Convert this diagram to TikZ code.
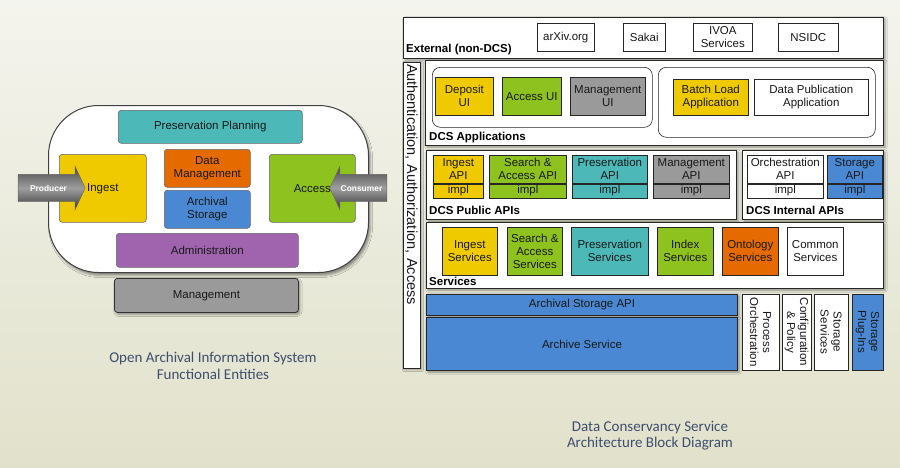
\documentclass[tikz,border=0pt]{standalone}
\usepackage{fontspec}
\setmainfont{Liberation Sans}
\newfontfamily\capfont{Carlito}
\usetikzlibrary{positioning, shapes.arrows, shadows.blur}
\definecolor{oyellow}{HTML}{F0CA00}
\definecolor{ogreen}{HTML}{8DC21F}
\definecolor{oteal}{HTML}{4DB8B8}
\definecolor{ogray}{HTML}{9A9A9A}
\definecolor{oorange}{HTML}{E56A00}
\definecolor{oblue}{HTML}{4A88D4}
\definecolor{opurple}{HTML}{A064AF}
\definecolor{capblue}{HTML}{3E4E6E}
\definecolor{bgtop}{HTML}{F4F4EE}
\definecolor{bgbot}{HTML}{E1E1CB}

\begin{document}
\begin{tikzpicture}[
  x=1pt, y=-1pt,
  sz/.style 2 args={minimum width=#1pt, minimum height=#2pt},
  txt/.style={font=\fontsize{11.5}{13}\selectfont, align=center, text=black!90},
  ent/.style={txt, draw=black!60, line width=0.6pt, rounded corners=3pt, inner sep=0pt, anchor=north west},
  blk/.style={txt, draw=black!85, line width=0.6pt, inner sep=0pt, anchor=north west, fill=white},
  frame/.style={blk, line width=1pt, blur shadow={shadow xshift=1.5pt, shadow yshift=-1.5pt}},
  grp/.style={blk, rounded corners=8pt},
  vtxt/.style={blk, anchor=center, rotate=-90},
  seclabel/.style={font=\fontsize{11.5}{13}\selectfont\bfseries, anchor=base west, inner sep=0pt},
  party/.style={single arrow, single arrow head extend=8pt, single arrow head indent=0pt,
    single arrow tip angle=130, draw=black!60, top color=black!72, bottom color=black!78,
    middle color=black!38, text=white, font=\fontsize{8.4}{10}\selectfont\bfseries,
    inner xsep=1pt, inner ysep=10.5pt, text height=6pt, text depth=0pt},
  caption/.style={font=\capfont\fontsize{15}{16.7}\selectfont, text=capblue, align=center},
]

% background
\shade[top color=bgtop, bottom color=bgbot] (0,0) rectangle (900,467);
\useasboundingbox (0,0) rectangle (900,467);

% OAIS functional entities
\node[draw=black!75, line width=1pt, fill=white, rounded corners=50pt, sz={320}{167},
  anchor=north west, blur shadow={shadow xshift=2pt, shadow yshift=-3pt}] (oais) at (48,105) {};
\node[ent, sz={184}{33}, fill=oteal] (plan) at (118,110) {Preservation Planning};
\node[ent, sz={87}{68}, fill=oyellow] (ingest) at (59,154) {Ingest};
\node[ent, sz={86}{38}, fill=oorange] (dataman) at (164,149) {Data\\Management};
\node[ent, sz={86}{38}, fill=oblue] (archstor) at (164,190) {Archival\\Storage};
\node[ent, sz={86}{68}, fill=ogreen] (access) at (269,154) {Access};
\node[ent, sz={182}{34}, fill=opurple] (admin) at (116,233) {Administration};
\node[ent, sz={184}{34}, fill=ogray, draw=black!80, line width=0.8pt,
  blur shadow={shadow xshift=1.5pt, shadow yshift=-2pt}] (mgmt) at (114,278) {Management};

\node[party, minimum height=67pt] (producer) at (48.5,188) {Producer};
\node[party, minimum height=57pt, shape border rotate=180] (consumer) at (361.5,188) {Consumer};

\node[caption] (oaiscap) at (213,365.5) {Open Archival Information System\\Functional Entities};

% DCS architecture
\node[frame, sz={480}{41}] (ext) at (403,17) {};
\node[blk, sz={57}{28}] (arxiv) at (537,23) {arXiv.org};
\node[blk, sz={42}{28}] (sakai) at (623,23) {Sakai};
\node[blk, sz={59}{28}] (ivoa) at (693,23) {IVOA\\Services};
\node[blk, sz={60}{28}] (nsidc) at (778,23) {NSIDC};
\node[seclabel] (extlbl) at (406,52) {External (non-DCS)};

\node[vtxt, line width=1pt, sz={306}{17}, font=\fontsize{14.5}{16}\selectfont,
  text width=302pt, align=left, blur shadow={shadow xshift=1.5pt, shadow yshift=-1.5pt}]
  (auth) at (411.5,215) {Authentication, Authorization, Access};

\node[frame, sz={458}{85}] (apps) at (425,60) {};
\node[grp, sz={220}{60}] (uigrp) at (432,67) {};
\node[blk, sz={58}{38}, fill=oyellow] (depui) at (435,77) {Deposit\\UI};
\node[blk, sz={59}{38}, fill=ogreen] (accui) at (502,77) {Access UI};
\node[blk, sz={75}{38}, fill=ogray] (mgmtui) at (570,77) {Management\\UI};
\node[grp, sz={217}{70}] (appgrp) at (658,67) {};
\node[blk, sz={75}{36}, fill=oyellow] (batch) at (673,79) {Batch Load\\Application};
\node[blk, sz={114}{36}] (datapub) at (754,79) {Data Publication\\Application};
\node[seclabel] (appslbl) at (429,140) {DCS Applications};

\node[frame, sz={310}{69}] (pubapi) at (426,150) {};
\node[blk, sz={50}{28}, fill=oyellow] (ingapi) at (433,155) {Ingest\\API};
\node[blk, sz={50}{14}, fill=oyellow, below=0pt of ingapi] (ingimpl) {impl};
\node[blk, sz={77}{28}, fill=ogreen] (srchapi) at (489,155) {Search \&\\Access API};
\node[blk, sz={77}{14}, fill=ogreen, below=0pt of srchapi] (srchimpl) {impl};
\node[blk, sz={75}{28}, fill=oteal] (presapi) at (572,155) {Preservation\\API};
\node[blk, sz={75}{14}, fill=oteal, below=0pt of presapi] (presimpl) {impl};
\node[blk, sz={76}{28}, fill=ogray] (mgmtapi) at (653,155) {Management\\API};
\node[blk, sz={76}{14}, fill=ogray, below=0pt of mgmtapi] (mgmtimpl) {impl};
\node[seclabel] (publbl) at (429,214) {DCS Public APIs};

\node[frame, sz={141}{69}] (intapi) at (742,150) {};
\node[blk, sz={76}{28}] (orchapi) at (747,155) {Orchestration\\API};
\node[blk, sz={76}{14}, below=0pt of orchapi] (orchimpl) {impl};
\node[blk, sz={55}{28}, fill=oblue] (storapi) at (827,155) {Storage\\API};
\node[blk, sz={55}{14}, fill=oblue, below=0pt of storapi] (storimpl) {impl};
\node[seclabel] (intlbl) at (746,214) {DCS Internal APIs};

\node[frame, sz={457}{66}] (svc) at (426,222) {};
\node[blk, sz={55}{48}, fill=oyellow] (ingsvc) at (442,227) {Ingest\\Services};
\node[blk, sz={55}{48}, fill=ogreen] (srchsvc) at (507,227) {Search \&\\Access\\Services};
\node[blk, sz={77}{48}, fill=oteal] (pressvc) at (571,227) {Preservation\\Services};
\node[blk, sz={56}{48}, fill=ogreen] (idxsvc) at (657,227) {Index\\Services};
\node[blk, sz={56}{48}, fill=oorange] (ontsvc) at (722,227) {Ontology\\Services};
\node[blk, sz={56}{48}] (comsvc) at (787,227) {Common\\Services};
\node[seclabel] (svclbl) at (429,285.5) {Services};

\node[frame, sz={311}{21}, fill=oblue] (asapi) at (426,294) {Archival Storage API};
\node[frame, sz={311}{53}, fill=oblue] (archsvc) at (426,317) {Archive Service};
\node[vtxt, sz={76}{37}] (procorch) at (760.5,332) {Process\\Orchestration};
\node[vtxt, sz={76}{29}] (config) at (796.5,332) {Configuration\\\& Policy};
\node[vtxt, sz={76}{34}] (storsvc) at (831,332) {Storage\\Services};
\node[vtxt, sz={76}{31}, fill=oblue] (plugins) at (867.5,332) {Storage\\Plug-Ins};

\node[caption] (dcscap) at (650,435.5) {Data Conservancy Service\\Architecture Block Diagram};

\end{tikzpicture}
\end{document}
